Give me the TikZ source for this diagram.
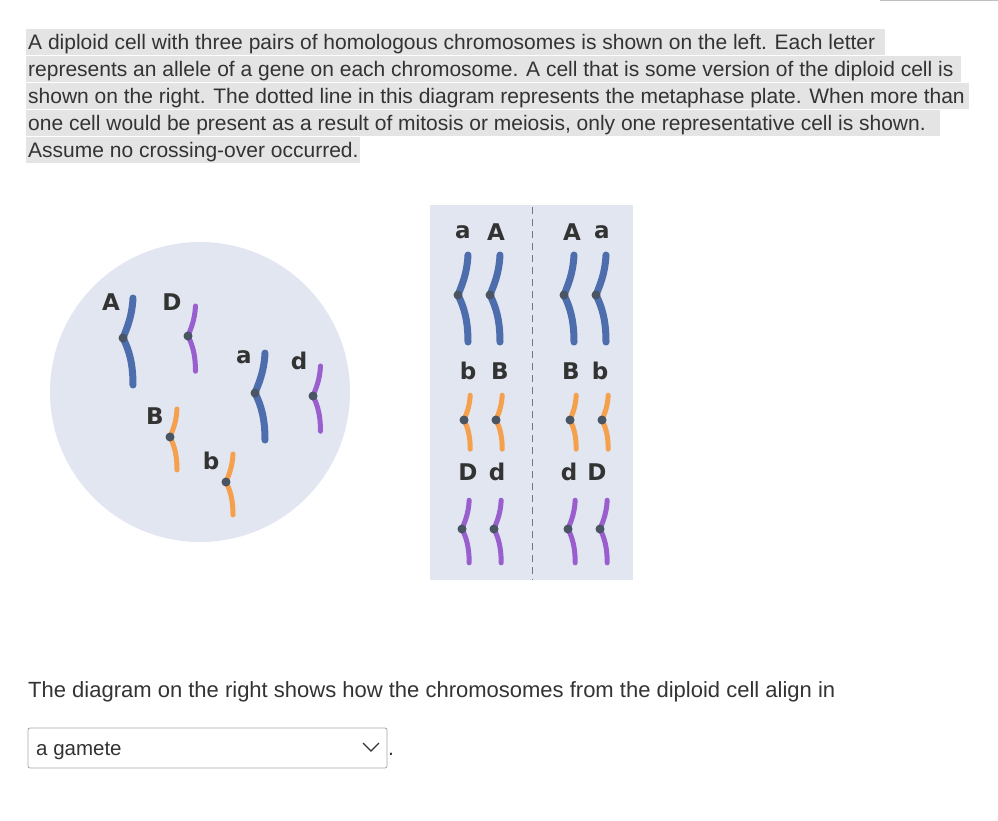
\documentclass[tikz,border=0pt]{standalone}
\usepackage{fontspec}
\setmainfont{Liberation Sans}
\newfontfamily\boldf{DejaVu Sans}
\definecolor{cbg}{HTML}{E1E6F0}
\definecolor{cblue}{HTML}{4E6DAD}
\definecolor{corange}{HTML}{F5A04C}
\definecolor{cpurple}{HTML}{9A5FCF}
\definecolor{cdot}{HTML}{4A5563}
\definecolor{hl}{HTML}{E4E4E4}
\definecolor{txt}{HTML}{333333}
\tikzset{chrline/.style={line width=6.5pt,line cap=round},
  allele/.style={font=\boldf\bfseries\fontsize{23}{23}\selectfont,text=txt,inner sep=0},
  para/.style={anchor=base west,inner sep=0,font=\fontsize{21}{24}\selectfont,text=txt}}
\newcommand{\chr}[6]{%
 \begin{scope}[shift={(#2,#3)},scale=#4]
  \draw[chrline,#5,line width=#6] (10,-40) .. controls (9,-20) and (3,-8) .. (0,0) .. controls (6,12) and (10,25) .. (10,47);
  \fill[cdot] (0,0) circle (4.5/#4);
  \coordinate (#1) at (0,0);
 \end{scope}}
\begin{document}
\begin{tikzpicture}[x=1pt,y=-1pt]
\useasboundingbox (0,0) rectangle (998,820);
\draw[gray!50,line width=1pt] (880,0.5) -- (998,0.5);
\foreach \y/\w in {29/885,56/961,83/969,110/940,137/360}{\fill[hl] (26,\y) rectangle (\w,\y+26);}
\node[para] (l1) at (28,49) {A diploid cell with three pairs of homologous chromosomes is shown on the left. Each letter};
\node[para] (l2) at (28,76) {represents an allele of a gene on each chromosome. A cell that is some version of the diploid cell is};
\node[para] (l3) at (28,103) {shown on the right. The dotted line in this diagram represents the metaphase plate. When more than};
\node[para] (l4) at (28,130) {one cell would be present as a result of mitosis or meiosis, only one representative cell is shown.};
\node[para] (l5) at (28,157) {Assume no crossing-over occurred.};
\fill[cbg] (200,392) circle (150);
\chr{cA}{123}{338}{1}{cblue}{7pt}
\chr{cD}{188}{336}{0.75}{cpurple}{5pt}
\chr{ca}{255}{393}{1}{cblue}{7pt}
\chr{cd}{313}{396}{0.75}{cpurple}{5pt}
\chr{cB}{170}{437}{0.7}{corange}{5pt}
\chr{cb}{226}{482}{0.7}{corange}{5pt}
\node[allele] at (111,302) {A};
\node[allele] at (172,302) {D};
\node[allele] at (244,357) {a};
\node[allele] at (299,361) {d};
\node[allele] at (155,416) {B};
\node[allele] at (211,461) {b};
\fill[cbg] (430,205) rectangle (633,580);
\draw[cdot!80,dash pattern=on 7pt off 5pt,line width=1pt] (532,207) -- (532,580);
\foreach \x in {458,490,564,596}{
  \chr{bl\x}{\x}{295}{1}{cblue}{7pt}
  \chr{or\x}{\x+6}{420}{0.62}{corange}{5pt}
  \chr{pu\x}{\x+4}{529}{0.72}{cpurple}{5pt}
}
\node[allele] at (463,232) {a};
\node[allele] at (496,232) {A};
\node[allele] at (572,232) {A};
\node[allele] at (602,232) {a};
\node[allele] at (468,371) {b};
\node[allele] at (500,371) {B};
\node[allele] at (571,371) {B};
\node[allele] at (600,371) {b};
\node[allele] at (468,472) {D};
\node[allele] at (497,472) {d};
\node[allele] at (569,472) {d};
\node[allele] at (597,472) {D};
\node[para,font=\fontsize{22}{24}\selectfont] (q) at (28,697) {The diagram on the right shows how the chromosomes from the diploid cell align in};
\draw[gray!70,rounded corners=2pt,line width=0.8pt,fill=white] (28,728) rectangle (387,768);
\node[para,font=\fontsize{20.5}{24}\selectfont] (sel) at (36,755) {a gamete};
\draw[txt,line width=1.3pt] (363,743) -- (371,751) -- (379,743);
\node[para] (dot) at (388,755) {.};
\end{tikzpicture}
\end{document}
